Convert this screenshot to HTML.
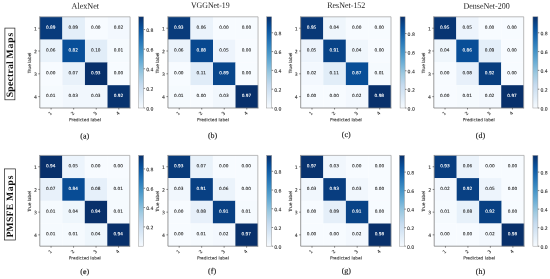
<!DOCTYPE html>
<html><head><meta charset="utf-8"><title>Confusion matrices</title>
<style>
html,body{margin:0;padding:0;background:#fff}
body{width:550px;height:279px;overflow:hidden}
svg{display:block}
text{font-family:"DejaVu Sans","Liberation Sans",sans-serif;text-rendering:geometricPrecision}
.ti{font-family:"Liberation Serif",serif;font-size:8.5px;fill:#222}
.sd{font-family:"Liberation Serif",serif;font-weight:bold;fill:#111}
.nm{font-size:4.25px;text-anchor:middle;stroke-width:0.1px}
.tk{font-size:4.6px;fill:#333;stroke:#333;stroke-width:0.1px}
.lb{font-size:4.3px;fill:#333;stroke:#333;stroke-width:0.1px}
.cp{font-family:"Liberation Serif",serif;font-size:8px;fill:#111;stroke:#111;stroke-width:0.12px}
</style></head><body>
<svg width="550" height="279" viewBox="0 0 550 279">
<defs><linearGradient id="cb" x1="0" y1="1" x2="0" y2="0">
<stop offset="0" stop-color="#f7fbff"/>
<stop offset="0.125" stop-color="#deebf7"/>
<stop offset="0.25" stop-color="#c6dbef"/>
<stop offset="0.375" stop-color="#9ecae1"/>
<stop offset="0.5" stop-color="#6baed6"/>
<stop offset="0.625" stop-color="#4292c6"/>
<stop offset="0.75" stop-color="#2171b5"/>
<stop offset="0.875" stop-color="#08519c"/>
<stop offset="1" stop-color="#08306b"/>
</linearGradient></defs>
<rect width="550" height="279" fill="#fff"/>
<text class="ti" transform="translate(85.3 8.8) rotate(0.05)" text-anchor="middle" textLength="27.6" lengthAdjust="spacingAndGlyphs">AlexNet</text>
<text class="ti" transform="translate(210.3 8) rotate(0.05)" text-anchor="middle" textLength="38.7" lengthAdjust="spacingAndGlyphs">VGGNet-19</text>
<text class="ti" transform="translate(346.3 8.1) rotate(0.05)" text-anchor="middle" textLength="38.1" lengthAdjust="spacingAndGlyphs">ResNet-152</text>
<text class="ti" transform="translate(486.6 8.8) rotate(0.05)" text-anchor="middle" textLength="46.3" lengthAdjust="spacingAndGlyphs">DenseNet-200</text>
<rect x="4.9" y="28.1" width="10" height="71.7" fill="#fff" stroke="#222" stroke-width="0.7"/>
<text class="sd" font-size="9.7" transform="translate(13.3 97.3) rotate(-90)"><tspan letter-spacing="0.24">Spectral</tspan> <tspan dx="0" letter-spacing="0.9">Maps</tspan></text>
<rect x="4.5" y="168.9" width="11.1" height="71.1" fill="#fff" stroke="#222" stroke-width="0.7"/>
<text class="sd" font-size="9.7" transform="translate(13.3 237.6) rotate(-90)"><tspan letter-spacing="0.25">PMSFE</tspan> <tspan dx="0" letter-spacing="0.8">Maps</tspan></text>
<g>
<rect x="39.80" y="16.80" width="22.62" height="22.85" fill="#083b7c"/>
<rect x="62.38" y="16.80" width="22.62" height="22.85" fill="#e4eff9"/>
<rect x="84.95" y="16.80" width="22.62" height="22.85" fill="#f7fbff"/>
<rect x="107.52" y="16.80" width="22.62" height="22.85" fill="#f3f8fe"/>
<rect x="39.80" y="39.60" width="22.62" height="22.85" fill="#eaf3fb"/>
<rect x="62.38" y="39.60" width="22.62" height="22.85" fill="#084f99"/>
<rect x="84.95" y="39.60" width="22.62" height="22.85" fill="#e1edf8"/>
<rect x="107.52" y="39.60" width="22.62" height="22.85" fill="#f5fafe"/>
<rect x="39.80" y="62.40" width="22.62" height="22.85" fill="#f7fbff"/>
<rect x="62.38" y="62.40" width="22.62" height="22.85" fill="#e8f1fa"/>
<rect x="84.95" y="62.40" width="22.62" height="22.85" fill="#08306b"/>
<rect x="107.52" y="62.40" width="22.62" height="22.85" fill="#f7fbff"/>
<rect x="39.80" y="85.20" width="22.62" height="22.85" fill="#f5fafe"/>
<rect x="62.38" y="85.20" width="22.62" height="22.85" fill="#f1f7fd"/>
<rect x="84.95" y="85.20" width="22.62" height="22.85" fill="#f1f7fd"/>
<rect x="107.52" y="85.20" width="22.62" height="22.85" fill="#08336f"/>
<path d="M39.43 16.80H130.10V108.37" fill="none" stroke="#a4a4a4" stroke-width="0.75"/>
<path d="M39.80 16.43V108.00H130.47" fill="none" stroke="#787878" stroke-width="0.75"/>
<text class="nm" transform="translate(50.69 28.70) rotate(0.05)" fill="#fff" stroke="#fff">0.89</text>
<text class="nm" transform="translate(73.26 28.70) rotate(0.05)" fill="#222" stroke="#222">0.09</text>
<text class="nm" transform="translate(95.84 28.70) rotate(0.05)" fill="#222" stroke="#222">0.00</text>
<text class="nm" transform="translate(118.41 28.70) rotate(0.05)" fill="#222" stroke="#222">0.02</text>
<text class="nm" transform="translate(50.69 51.50) rotate(0.05)" fill="#222" stroke="#222">0.06</text>
<text class="nm" transform="translate(73.26 51.50) rotate(0.05)" fill="#fff" stroke="#fff">0.82</text>
<text class="nm" transform="translate(95.84 51.50) rotate(0.05)" fill="#222" stroke="#222">0.10</text>
<text class="nm" transform="translate(118.41 51.50) rotate(0.05)" fill="#222" stroke="#222">0.01</text>
<text class="nm" transform="translate(50.69 74.30) rotate(0.05)" fill="#222" stroke="#222">0.00</text>
<text class="nm" transform="translate(73.26 74.30) rotate(0.05)" fill="#222" stroke="#222">0.07</text>
<text class="nm" transform="translate(95.84 74.30) rotate(0.05)" fill="#fff" stroke="#fff">0.93</text>
<text class="nm" transform="translate(118.41 74.30) rotate(0.05)" fill="#222" stroke="#222">0.00</text>
<text class="nm" transform="translate(50.69 97.10) rotate(0.05)" fill="#222" stroke="#222">0.01</text>
<text class="nm" transform="translate(73.26 97.10) rotate(0.05)" fill="#222" stroke="#222">0.03</text>
<text class="nm" transform="translate(95.84 97.10) rotate(0.05)" fill="#222" stroke="#222">0.03</text>
<text class="nm" transform="translate(118.41 97.10) rotate(0.05)" fill="#fff" stroke="#fff">0.92</text>
<path d="M39.80 28.20h-1.5M51.09 108.00v1.5" stroke="#333" stroke-width="0.6"/>
<text class="tk" transform="translate(36.90 30.40) rotate(0.05)" text-anchor="end">1</text>
<text class="tk" transform="translate(52.29 113.50) rotate(-45)" text-anchor="end">1</text>
<path d="M39.80 51.00h-1.5M73.66 108.00v1.5" stroke="#333" stroke-width="0.6"/>
<text class="tk" transform="translate(36.90 53.20) rotate(0.05)" text-anchor="end">2</text>
<text class="tk" transform="translate(74.86 113.50) rotate(-45)" text-anchor="end">2</text>
<path d="M39.80 73.80h-1.5M96.24 108.00v1.5" stroke="#333" stroke-width="0.6"/>
<text class="tk" transform="translate(36.90 76.00) rotate(0.05)" text-anchor="end">3</text>
<text class="tk" transform="translate(97.44 113.50) rotate(-45)" text-anchor="end">3</text>
<path d="M39.80 96.60h-1.5M118.81 108.00v1.5" stroke="#333" stroke-width="0.6"/>
<text class="tk" transform="translate(36.90 98.80) rotate(0.05)" text-anchor="end">4</text>
<text class="tk" transform="translate(120.01 113.50) rotate(-45)" text-anchor="end">4</text>
<text class="lb" transform="translate(30.90 62.90) rotate(-90)" text-anchor="middle">True label</text>
<text class="lb" transform="translate(84.95 121.30) rotate(0.05)" text-anchor="middle">Predicted label</text>
<rect x="138.70" y="16.80" width="5.00" height="91.20" fill="url(#cb)" stroke="#999" stroke-width="0.5"/>
<path d="M143.70 108.00h1.4" stroke="#333" stroke-width="0.6"/>
<text class="tk" transform="translate(146.20 110.45) rotate(0.05)">0.0</text>
<path d="M143.70 88.39h1.4" stroke="#333" stroke-width="0.6"/>
<text class="tk" transform="translate(146.20 90.84) rotate(0.05)">0.2</text>
<path d="M143.70 68.77h1.4" stroke="#333" stroke-width="0.6"/>
<text class="tk" transform="translate(146.20 71.22) rotate(0.05)">0.4</text>
<path d="M143.70 49.16h1.4" stroke="#333" stroke-width="0.6"/>
<text class="tk" transform="translate(146.20 51.61) rotate(0.05)">0.6</text>
<path d="M143.70 29.55h1.4" stroke="#333" stroke-width="0.6"/>
<text class="tk" transform="translate(146.20 32.00) rotate(0.05)">0.8</text>
<text class="cp" transform="translate(84.70 138.40) rotate(0.05)" text-anchor="middle">(a)</text>
</g>
<g>
<rect x="167.95" y="16.80" width="22.57" height="22.85" fill="#083b7b"/>
<rect x="190.47" y="16.80" width="22.57" height="22.85" fill="#ebf3fb"/>
<rect x="213.00" y="16.80" width="22.57" height="22.85" fill="#f7fbff"/>
<rect x="235.52" y="16.80" width="22.57" height="22.85" fill="#f7fbff"/>
<rect x="167.95" y="39.60" width="22.57" height="22.85" fill="#ebf3fb"/>
<rect x="190.47" y="39.60" width="22.57" height="22.85" fill="#08488f"/>
<rect x="213.00" y="39.60" width="22.57" height="22.85" fill="#edf4fc"/>
<rect x="235.52" y="39.60" width="22.57" height="22.85" fill="#f7fbff"/>
<rect x="167.95" y="62.40" width="22.57" height="22.85" fill="#f7fbff"/>
<rect x="190.47" y="62.40" width="22.57" height="22.85" fill="#e0ecf8"/>
<rect x="213.00" y="62.40" width="22.57" height="22.85" fill="#08468b"/>
<rect x="235.52" y="62.40" width="22.57" height="22.85" fill="#f7fbff"/>
<rect x="167.95" y="85.20" width="22.57" height="22.85" fill="#f5fafe"/>
<rect x="190.47" y="85.20" width="22.57" height="22.85" fill="#f7fbff"/>
<rect x="213.00" y="85.20" width="22.57" height="22.85" fill="#f1f7fd"/>
<rect x="235.52" y="85.20" width="22.57" height="22.85" fill="#08306b"/>
<path d="M167.58 16.80H258.05V108.37" fill="none" stroke="#a4a4a4" stroke-width="0.75"/>
<path d="M167.95 16.43V108.00H258.42" fill="none" stroke="#787878" stroke-width="0.75"/>
<text class="nm" transform="translate(178.81 28.70) rotate(0.05)" fill="#fff" stroke="#fff">0.93</text>
<text class="nm" transform="translate(201.34 28.70) rotate(0.05)" fill="#222" stroke="#222">0.06</text>
<text class="nm" transform="translate(223.86 28.70) rotate(0.05)" fill="#222" stroke="#222">0.00</text>
<text class="nm" transform="translate(246.39 28.70) rotate(0.05)" fill="#222" stroke="#222">0.00</text>
<text class="nm" transform="translate(178.81 51.50) rotate(0.05)" fill="#222" stroke="#222">0.06</text>
<text class="nm" transform="translate(201.34 51.50) rotate(0.05)" fill="#fff" stroke="#fff">0.88</text>
<text class="nm" transform="translate(223.86 51.50) rotate(0.05)" fill="#222" stroke="#222">0.05</text>
<text class="nm" transform="translate(246.39 51.50) rotate(0.05)" fill="#222" stroke="#222">0.00</text>
<text class="nm" transform="translate(178.81 74.30) rotate(0.05)" fill="#222" stroke="#222">0.00</text>
<text class="nm" transform="translate(201.34 74.30) rotate(0.05)" fill="#222" stroke="#222">0.11</text>
<text class="nm" transform="translate(223.86 74.30) rotate(0.05)" fill="#fff" stroke="#fff">0.89</text>
<text class="nm" transform="translate(246.39 74.30) rotate(0.05)" fill="#222" stroke="#222">0.00</text>
<text class="nm" transform="translate(178.81 97.10) rotate(0.05)" fill="#222" stroke="#222">0.01</text>
<text class="nm" transform="translate(201.34 97.10) rotate(0.05)" fill="#222" stroke="#222">0.00</text>
<text class="nm" transform="translate(223.86 97.10) rotate(0.05)" fill="#222" stroke="#222">0.03</text>
<text class="nm" transform="translate(246.39 97.10) rotate(0.05)" fill="#fff" stroke="#fff">0.97</text>
<path d="M167.95 28.20h-1.5M179.21 108.00v1.5" stroke="#333" stroke-width="0.6"/>
<text class="tk" transform="translate(165.05 30.40) rotate(0.05)" text-anchor="end">1</text>
<text class="tk" transform="translate(180.41 113.50) rotate(-45)" text-anchor="end">1</text>
<path d="M167.95 51.00h-1.5M201.74 108.00v1.5" stroke="#333" stroke-width="0.6"/>
<text class="tk" transform="translate(165.05 53.20) rotate(0.05)" text-anchor="end">2</text>
<text class="tk" transform="translate(202.94 113.50) rotate(-45)" text-anchor="end">2</text>
<path d="M167.95 73.80h-1.5M224.26 108.00v1.5" stroke="#333" stroke-width="0.6"/>
<text class="tk" transform="translate(165.05 76.00) rotate(0.05)" text-anchor="end">3</text>
<text class="tk" transform="translate(225.46 113.50) rotate(-45)" text-anchor="end">3</text>
<path d="M167.95 96.60h-1.5M246.79 108.00v1.5" stroke="#333" stroke-width="0.6"/>
<text class="tk" transform="translate(165.05 98.80) rotate(0.05)" text-anchor="end">4</text>
<text class="tk" transform="translate(247.99 113.50) rotate(-45)" text-anchor="end">4</text>
<text class="lb" transform="translate(159.05 62.90) rotate(-90)" text-anchor="middle">True label</text>
<text class="lb" transform="translate(213.00 121.30) rotate(0.05)" text-anchor="middle">Predicted label</text>
<rect x="266.70" y="16.80" width="5.00" height="91.20" fill="url(#cb)" stroke="#999" stroke-width="0.5"/>
<path d="M271.70 108.00h1.4" stroke="#333" stroke-width="0.6"/>
<text class="tk" transform="translate(274.20 110.45) rotate(0.05)">0.0</text>
<path d="M271.70 89.20h1.4" stroke="#333" stroke-width="0.6"/>
<text class="tk" transform="translate(274.20 91.65) rotate(0.05)">0.2</text>
<path d="M271.70 70.39h1.4" stroke="#333" stroke-width="0.6"/>
<text class="tk" transform="translate(274.20 72.84) rotate(0.05)">0.4</text>
<path d="M271.70 51.59h1.4" stroke="#333" stroke-width="0.6"/>
<text class="tk" transform="translate(274.20 54.04) rotate(0.05)">0.6</text>
<path d="M271.70 32.78h1.4" stroke="#333" stroke-width="0.6"/>
<text class="tk" transform="translate(274.20 35.23) rotate(0.05)">0.8</text>
<text class="cp" transform="translate(212.60 138.00) rotate(0.05)" text-anchor="middle">(b)</text>
</g>
<g>
<rect x="300.70" y="16.80" width="22.62" height="22.85" fill="#083877"/>
<rect x="323.27" y="16.80" width="22.62" height="22.85" fill="#eff6fc"/>
<rect x="345.85" y="16.80" width="22.62" height="22.85" fill="#f7fbff"/>
<rect x="368.42" y="16.80" width="22.62" height="22.85" fill="#f7fbff"/>
<rect x="300.70" y="39.60" width="22.62" height="22.85" fill="#edf4fc"/>
<rect x="323.27" y="39.60" width="22.62" height="22.85" fill="#084387"/>
<rect x="345.85" y="39.60" width="22.62" height="22.85" fill="#eff6fc"/>
<rect x="368.42" y="39.60" width="22.62" height="22.85" fill="#f7fbff"/>
<rect x="300.70" y="62.40" width="22.62" height="22.85" fill="#f3f8fe"/>
<rect x="323.27" y="62.40" width="22.62" height="22.85" fill="#e1edf8"/>
<rect x="345.85" y="62.40" width="22.62" height="22.85" fill="#084e97"/>
<rect x="368.42" y="62.40" width="22.62" height="22.85" fill="#f5fafe"/>
<rect x="300.70" y="85.20" width="22.62" height="22.85" fill="#f7fbff"/>
<rect x="323.27" y="85.20" width="22.62" height="22.85" fill="#f7fbff"/>
<rect x="345.85" y="85.20" width="22.62" height="22.85" fill="#f3f8fe"/>
<rect x="368.42" y="85.20" width="22.62" height="22.85" fill="#08306b"/>
<path d="M300.33 16.80H391.00V108.37" fill="none" stroke="#a4a4a4" stroke-width="0.75"/>
<path d="M300.70 16.43V108.00H391.37" fill="none" stroke="#787878" stroke-width="0.75"/>
<text class="nm" transform="translate(311.59 28.70) rotate(0.05)" fill="#fff" stroke="#fff">0.95</text>
<text class="nm" transform="translate(334.16 28.70) rotate(0.05)" fill="#222" stroke="#222">0.04</text>
<text class="nm" transform="translate(356.74 28.70) rotate(0.05)" fill="#222" stroke="#222">0.00</text>
<text class="nm" transform="translate(379.31 28.70) rotate(0.05)" fill="#222" stroke="#222">0.00</text>
<text class="nm" transform="translate(311.59 51.50) rotate(0.05)" fill="#222" stroke="#222">0.05</text>
<text class="nm" transform="translate(334.16 51.50) rotate(0.05)" fill="#fff" stroke="#fff">0.91</text>
<text class="nm" transform="translate(356.74 51.50) rotate(0.05)" fill="#222" stroke="#222">0.04</text>
<text class="nm" transform="translate(379.31 51.50) rotate(0.05)" fill="#222" stroke="#222">0.00</text>
<text class="nm" transform="translate(311.59 74.30) rotate(0.05)" fill="#222" stroke="#222">0.02</text>
<text class="nm" transform="translate(334.16 74.30) rotate(0.05)" fill="#222" stroke="#222">0.11</text>
<text class="nm" transform="translate(356.74 74.30) rotate(0.05)" fill="#fff" stroke="#fff">0.87</text>
<text class="nm" transform="translate(379.31 74.30) rotate(0.05)" fill="#222" stroke="#222">0.01</text>
<text class="nm" transform="translate(311.59 97.10) rotate(0.05)" fill="#222" stroke="#222">0.00</text>
<text class="nm" transform="translate(334.16 97.10) rotate(0.05)" fill="#222" stroke="#222">0.00</text>
<text class="nm" transform="translate(356.74 97.10) rotate(0.05)" fill="#222" stroke="#222">0.02</text>
<text class="nm" transform="translate(379.31 97.10) rotate(0.05)" fill="#fff" stroke="#fff">0.98</text>
<path d="M300.70 28.20h-1.5M311.99 108.00v1.5" stroke="#333" stroke-width="0.6"/>
<text class="tk" transform="translate(297.80 30.40) rotate(0.05)" text-anchor="end">1</text>
<text class="tk" transform="translate(313.19 113.50) rotate(-45)" text-anchor="end">1</text>
<path d="M300.70 51.00h-1.5M334.56 108.00v1.5" stroke="#333" stroke-width="0.6"/>
<text class="tk" transform="translate(297.80 53.20) rotate(0.05)" text-anchor="end">2</text>
<text class="tk" transform="translate(335.76 113.50) rotate(-45)" text-anchor="end">2</text>
<path d="M300.70 73.80h-1.5M357.14 108.00v1.5" stroke="#333" stroke-width="0.6"/>
<text class="tk" transform="translate(297.80 76.00) rotate(0.05)" text-anchor="end">3</text>
<text class="tk" transform="translate(358.34 113.50) rotate(-45)" text-anchor="end">3</text>
<path d="M300.70 96.60h-1.5M379.71 108.00v1.5" stroke="#333" stroke-width="0.6"/>
<text class="tk" transform="translate(297.80 98.80) rotate(0.05)" text-anchor="end">4</text>
<text class="tk" transform="translate(380.91 113.50) rotate(-45)" text-anchor="end">4</text>
<text class="lb" transform="translate(291.80 62.90) rotate(-90)" text-anchor="middle">True label</text>
<text class="lb" transform="translate(345.85 121.30) rotate(0.05)" text-anchor="middle">Predicted label</text>
<rect x="400.10" y="16.80" width="5.00" height="91.20" fill="url(#cb)" stroke="#999" stroke-width="0.5"/>
<path d="M405.10 108.00h1.4" stroke="#333" stroke-width="0.6"/>
<text class="tk" transform="translate(407.60 110.45) rotate(0.05)">0.0</text>
<path d="M405.10 89.39h1.4" stroke="#333" stroke-width="0.6"/>
<text class="tk" transform="translate(407.60 91.84) rotate(0.05)">0.2</text>
<path d="M405.10 70.78h1.4" stroke="#333" stroke-width="0.6"/>
<text class="tk" transform="translate(407.60 73.23) rotate(0.05)">0.4</text>
<path d="M405.10 52.16h1.4" stroke="#333" stroke-width="0.6"/>
<text class="tk" transform="translate(407.60 54.61) rotate(0.05)">0.6</text>
<path d="M405.10 33.55h1.4" stroke="#333" stroke-width="0.6"/>
<text class="tk" transform="translate(407.60 36.00) rotate(0.05)">0.8</text>
<text class="cp" transform="translate(346.20 137.10) rotate(0.05)" text-anchor="middle">(c)</text>
</g>
<g>
<rect x="433.80" y="16.80" width="22.53" height="22.85" fill="#083573"/>
<rect x="456.28" y="16.80" width="22.53" height="22.85" fill="#edf4fc"/>
<rect x="478.75" y="16.80" width="22.53" height="22.85" fill="#f7fbff"/>
<rect x="501.23" y="16.80" width="22.53" height="22.85" fill="#f7fbff"/>
<rect x="433.80" y="39.60" width="22.53" height="22.85" fill="#eff6fc"/>
<rect x="456.28" y="39.60" width="22.53" height="22.85" fill="#084e97"/>
<rect x="478.75" y="39.60" width="22.53" height="22.85" fill="#e4eff9"/>
<rect x="501.23" y="39.60" width="22.53" height="22.85" fill="#f7fbff"/>
<rect x="433.80" y="62.40" width="22.53" height="22.85" fill="#f7fbff"/>
<rect x="456.28" y="62.40" width="22.53" height="22.85" fill="#e7f0fa"/>
<rect x="478.75" y="62.40" width="22.53" height="22.85" fill="#083e7f"/>
<rect x="501.23" y="62.40" width="22.53" height="22.85" fill="#f7fbff"/>
<rect x="433.80" y="85.20" width="22.53" height="22.85" fill="#f7fbff"/>
<rect x="456.28" y="85.20" width="22.53" height="22.85" fill="#f5fafe"/>
<rect x="478.75" y="85.20" width="22.53" height="22.85" fill="#f3f8fe"/>
<rect x="501.23" y="85.20" width="22.53" height="22.85" fill="#08306b"/>
<path d="M433.43 16.80H523.70V108.37" fill="none" stroke="#a4a4a4" stroke-width="0.75"/>
<path d="M433.80 16.43V108.00H524.07" fill="none" stroke="#787878" stroke-width="0.75"/>
<text class="nm" transform="translate(444.64 28.70) rotate(0.05)" fill="#fff" stroke="#fff">0.95</text>
<text class="nm" transform="translate(467.11 28.70) rotate(0.05)" fill="#222" stroke="#222">0.05</text>
<text class="nm" transform="translate(489.59 28.70) rotate(0.05)" fill="#222" stroke="#222">0.00</text>
<text class="nm" transform="translate(512.06 28.70) rotate(0.05)" fill="#222" stroke="#222">0.00</text>
<text class="nm" transform="translate(444.64 51.50) rotate(0.05)" fill="#222" stroke="#222">0.04</text>
<text class="nm" transform="translate(467.11 51.50) rotate(0.05)" fill="#fff" stroke="#fff">0.86</text>
<text class="nm" transform="translate(489.59 51.50) rotate(0.05)" fill="#222" stroke="#222">0.09</text>
<text class="nm" transform="translate(512.06 51.50) rotate(0.05)" fill="#222" stroke="#222">0.00</text>
<text class="nm" transform="translate(444.64 74.30) rotate(0.05)" fill="#222" stroke="#222">0.00</text>
<text class="nm" transform="translate(467.11 74.30) rotate(0.05)" fill="#222" stroke="#222">0.08</text>
<text class="nm" transform="translate(489.59 74.30) rotate(0.05)" fill="#fff" stroke="#fff">0.92</text>
<text class="nm" transform="translate(512.06 74.30) rotate(0.05)" fill="#222" stroke="#222">0.00</text>
<text class="nm" transform="translate(444.64 97.10) rotate(0.05)" fill="#222" stroke="#222">0.00</text>
<text class="nm" transform="translate(467.11 97.10) rotate(0.05)" fill="#222" stroke="#222">0.01</text>
<text class="nm" transform="translate(489.59 97.10) rotate(0.05)" fill="#222" stroke="#222">0.02</text>
<text class="nm" transform="translate(512.06 97.10) rotate(0.05)" fill="#fff" stroke="#fff">0.97</text>
<path d="M433.80 28.20h-1.5M445.04 108.00v1.5" stroke="#333" stroke-width="0.6"/>
<text class="tk" transform="translate(430.90 30.40) rotate(0.05)" text-anchor="end">1</text>
<text class="tk" transform="translate(446.24 113.50) rotate(-45)" text-anchor="end">1</text>
<path d="M433.80 51.00h-1.5M467.51 108.00v1.5" stroke="#333" stroke-width="0.6"/>
<text class="tk" transform="translate(430.90 53.20) rotate(0.05)" text-anchor="end">2</text>
<text class="tk" transform="translate(468.71 113.50) rotate(-45)" text-anchor="end">2</text>
<path d="M433.80 73.80h-1.5M489.99 108.00v1.5" stroke="#333" stroke-width="0.6"/>
<text class="tk" transform="translate(430.90 76.00) rotate(0.05)" text-anchor="end">3</text>
<text class="tk" transform="translate(491.19 113.50) rotate(-45)" text-anchor="end">3</text>
<path d="M433.80 96.60h-1.5M512.46 108.00v1.5" stroke="#333" stroke-width="0.6"/>
<text class="tk" transform="translate(430.90 98.80) rotate(0.05)" text-anchor="end">4</text>
<text class="tk" transform="translate(513.66 113.50) rotate(-45)" text-anchor="end">4</text>
<text class="lb" transform="translate(424.90 62.90) rotate(-90)" text-anchor="middle">True label</text>
<text class="lb" transform="translate(478.75 121.30) rotate(0.05)" text-anchor="middle">Predicted label</text>
<rect x="532.90" y="16.80" width="5.00" height="91.20" fill="url(#cb)" stroke="#999" stroke-width="0.5"/>
<path d="M537.90 108.00h1.4" stroke="#333" stroke-width="0.6"/>
<text class="tk" transform="translate(540.40 110.45) rotate(0.05)">0.0</text>
<path d="M537.90 89.20h1.4" stroke="#333" stroke-width="0.6"/>
<text class="tk" transform="translate(540.40 91.65) rotate(0.05)">0.2</text>
<path d="M537.90 70.39h1.4" stroke="#333" stroke-width="0.6"/>
<text class="tk" transform="translate(540.40 72.84) rotate(0.05)">0.4</text>
<path d="M537.90 51.59h1.4" stroke="#333" stroke-width="0.6"/>
<text class="tk" transform="translate(540.40 54.04) rotate(0.05)">0.6</text>
<path d="M537.90 32.78h1.4" stroke="#333" stroke-width="0.6"/>
<text class="tk" transform="translate(540.40 35.23) rotate(0.05)">0.8</text>
<text class="cp" transform="translate(480.45 138.00) rotate(0.05)" text-anchor="middle">(d)</text>
</g>
<g>
<rect x="39.80" y="155.40" width="22.55" height="22.75" fill="#08306b"/>
<rect x="62.30" y="155.40" width="22.55" height="22.75" fill="#ecf4fc"/>
<rect x="84.80" y="155.40" width="22.55" height="22.75" fill="#f7fbff"/>
<rect x="107.30" y="155.40" width="22.55" height="22.75" fill="#f7fbff"/>
<rect x="39.80" y="178.10" width="22.55" height="22.75" fill="#e8f1fa"/>
<rect x="62.30" y="178.10" width="22.55" height="22.75" fill="#084c95"/>
<rect x="84.80" y="178.10" width="22.55" height="22.75" fill="#e6f0fa"/>
<rect x="107.30" y="178.10" width="22.55" height="22.75" fill="#f5fafe"/>
<rect x="39.80" y="200.80" width="22.55" height="22.75" fill="#f5fafe"/>
<rect x="62.30" y="200.80" width="22.55" height="22.75" fill="#eef6fc"/>
<rect x="84.80" y="200.80" width="22.55" height="22.75" fill="#08306b"/>
<rect x="107.30" y="200.80" width="22.55" height="22.75" fill="#f5fafe"/>
<rect x="39.80" y="223.50" width="22.55" height="22.75" fill="#f5fafe"/>
<rect x="62.30" y="223.50" width="22.55" height="22.75" fill="#f5fafe"/>
<rect x="84.80" y="223.50" width="22.55" height="22.75" fill="#eef6fc"/>
<rect x="107.30" y="223.50" width="22.55" height="22.75" fill="#08306b"/>
<path d="M39.43 155.40H129.80V246.57" fill="none" stroke="#a4a4a4" stroke-width="0.75"/>
<path d="M39.80 155.03V246.20H130.17" fill="none" stroke="#787878" stroke-width="0.75"/>
<text class="nm" transform="translate(50.65 167.25) rotate(0.05)" fill="#fff" stroke="#fff">0.94</text>
<text class="nm" transform="translate(73.15 167.25) rotate(0.05)" fill="#222" stroke="#222">0.05</text>
<text class="nm" transform="translate(95.65 167.25) rotate(0.05)" fill="#222" stroke="#222">0.00</text>
<text class="nm" transform="translate(118.15 167.25) rotate(0.05)" fill="#222" stroke="#222">0.00</text>
<text class="nm" transform="translate(50.65 189.95) rotate(0.05)" fill="#222" stroke="#222">0.07</text>
<text class="nm" transform="translate(73.15 189.95) rotate(0.05)" fill="#fff" stroke="#fff">0.84</text>
<text class="nm" transform="translate(95.65 189.95) rotate(0.05)" fill="#222" stroke="#222">0.08</text>
<text class="nm" transform="translate(118.15 189.95) rotate(0.05)" fill="#222" stroke="#222">0.01</text>
<text class="nm" transform="translate(50.65 212.65) rotate(0.05)" fill="#222" stroke="#222">0.01</text>
<text class="nm" transform="translate(73.15 212.65) rotate(0.05)" fill="#222" stroke="#222">0.04</text>
<text class="nm" transform="translate(95.65 212.65) rotate(0.05)" fill="#fff" stroke="#fff">0.94</text>
<text class="nm" transform="translate(118.15 212.65) rotate(0.05)" fill="#222" stroke="#222">0.01</text>
<text class="nm" transform="translate(50.65 235.35) rotate(0.05)" fill="#222" stroke="#222">0.01</text>
<text class="nm" transform="translate(73.15 235.35) rotate(0.05)" fill="#222" stroke="#222">0.01</text>
<text class="nm" transform="translate(95.65 235.35) rotate(0.05)" fill="#222" stroke="#222">0.04</text>
<text class="nm" transform="translate(118.15 235.35) rotate(0.05)" fill="#fff" stroke="#fff">0.94</text>
<path d="M39.80 166.75h-1.5M51.05 246.20v1.5" stroke="#333" stroke-width="0.6"/>
<text class="tk" transform="translate(36.90 168.95) rotate(0.05)" text-anchor="end">1</text>
<text class="tk" transform="translate(52.25 251.70) rotate(-45)" text-anchor="end">1</text>
<path d="M39.80 189.45h-1.5M73.55 246.20v1.5" stroke="#333" stroke-width="0.6"/>
<text class="tk" transform="translate(36.90 191.65) rotate(0.05)" text-anchor="end">2</text>
<text class="tk" transform="translate(74.75 251.70) rotate(-45)" text-anchor="end">2</text>
<path d="M39.80 212.15h-1.5M96.05 246.20v1.5" stroke="#333" stroke-width="0.6"/>
<text class="tk" transform="translate(36.90 214.35) rotate(0.05)" text-anchor="end">3</text>
<text class="tk" transform="translate(97.25 251.70) rotate(-45)" text-anchor="end">3</text>
<path d="M39.80 234.85h-1.5M118.55 246.20v1.5" stroke="#333" stroke-width="0.6"/>
<text class="tk" transform="translate(36.90 237.05) rotate(0.05)" text-anchor="end">4</text>
<text class="tk" transform="translate(119.75 251.70) rotate(-45)" text-anchor="end">4</text>
<text class="lb" transform="translate(30.90 201.30) rotate(-90)" text-anchor="middle">True label</text>
<text class="lb" transform="translate(84.80 259.50) rotate(0.05)" text-anchor="middle">Predicted label</text>
<rect x="138.70" y="155.40" width="5.00" height="90.80" fill="url(#cb)" stroke="#999" stroke-width="0.5"/>
<path d="M143.70 226.88h1.4" stroke="#333" stroke-width="0.6"/>
<text class="tk" transform="translate(146.20 229.33) rotate(0.05)">0.2</text>
<path d="M143.70 207.56h1.4" stroke="#333" stroke-width="0.6"/>
<text class="tk" transform="translate(146.20 210.01) rotate(0.05)">0.4</text>
<path d="M143.70 188.24h1.4" stroke="#333" stroke-width="0.6"/>
<text class="tk" transform="translate(146.20 190.69) rotate(0.05)">0.6</text>
<path d="M143.70 168.92h1.4" stroke="#333" stroke-width="0.6"/>
<text class="tk" transform="translate(146.20 171.37) rotate(0.05)">0.8</text>
<text class="cp" transform="translate(84.80 273.95) rotate(0.05)" text-anchor="middle">(e)</text>
</g>
<g>
<rect x="167.95" y="155.40" width="22.53" height="22.75" fill="#083b7b"/>
<rect x="190.42" y="155.40" width="22.53" height="22.75" fill="#e9f2fa"/>
<rect x="212.90" y="155.40" width="22.53" height="22.75" fill="#f7fbff"/>
<rect x="235.38" y="155.40" width="22.53" height="22.75" fill="#f7fbff"/>
<rect x="167.95" y="178.10" width="22.53" height="22.75" fill="#f1f7fd"/>
<rect x="190.42" y="178.10" width="22.53" height="22.75" fill="#084083"/>
<rect x="212.90" y="178.10" width="22.53" height="22.75" fill="#ebf3fb"/>
<rect x="235.38" y="178.10" width="22.53" height="22.75" fill="#f7fbff"/>
<rect x="167.95" y="200.80" width="22.53" height="22.75" fill="#f7fbff"/>
<rect x="190.42" y="200.80" width="22.53" height="22.75" fill="#e7f0fa"/>
<rect x="212.90" y="200.80" width="22.53" height="22.75" fill="#084083"/>
<rect x="235.38" y="200.80" width="22.53" height="22.75" fill="#f5fafe"/>
<rect x="167.95" y="223.50" width="22.53" height="22.75" fill="#f7fbff"/>
<rect x="190.42" y="223.50" width="22.53" height="22.75" fill="#f5fafe"/>
<rect x="212.90" y="223.50" width="22.53" height="22.75" fill="#f3f8fe"/>
<rect x="235.38" y="223.50" width="22.53" height="22.75" fill="#08306b"/>
<path d="M167.58 155.40H257.85V246.57" fill="none" stroke="#a4a4a4" stroke-width="0.75"/>
<path d="M167.95 155.03V246.20H258.22" fill="none" stroke="#787878" stroke-width="0.75"/>
<text class="nm" transform="translate(178.79 167.25) rotate(0.05)" fill="#fff" stroke="#fff">0.93</text>
<text class="nm" transform="translate(201.26 167.25) rotate(0.05)" fill="#222" stroke="#222">0.07</text>
<text class="nm" transform="translate(223.74 167.25) rotate(0.05)" fill="#222" stroke="#222">0.00</text>
<text class="nm" transform="translate(246.21 167.25) rotate(0.05)" fill="#222" stroke="#222">0.00</text>
<text class="nm" transform="translate(178.79 189.95) rotate(0.05)" fill="#222" stroke="#222">0.03</text>
<text class="nm" transform="translate(201.26 189.95) rotate(0.05)" fill="#fff" stroke="#fff">0.91</text>
<text class="nm" transform="translate(223.74 189.95) rotate(0.05)" fill="#222" stroke="#222">0.06</text>
<text class="nm" transform="translate(246.21 189.95) rotate(0.05)" fill="#222" stroke="#222">0.00</text>
<text class="nm" transform="translate(178.79 212.65) rotate(0.05)" fill="#222" stroke="#222">0.00</text>
<text class="nm" transform="translate(201.26 212.65) rotate(0.05)" fill="#222" stroke="#222">0.08</text>
<text class="nm" transform="translate(223.74 212.65) rotate(0.05)" fill="#fff" stroke="#fff">0.91</text>
<text class="nm" transform="translate(246.21 212.65) rotate(0.05)" fill="#222" stroke="#222">0.01</text>
<text class="nm" transform="translate(178.79 235.35) rotate(0.05)" fill="#222" stroke="#222">0.00</text>
<text class="nm" transform="translate(201.26 235.35) rotate(0.05)" fill="#222" stroke="#222">0.01</text>
<text class="nm" transform="translate(223.74 235.35) rotate(0.05)" fill="#222" stroke="#222">0.02</text>
<text class="nm" transform="translate(246.21 235.35) rotate(0.05)" fill="#fff" stroke="#fff">0.97</text>
<path d="M167.95 166.75h-1.5M179.19 246.20v1.5" stroke="#333" stroke-width="0.6"/>
<text class="tk" transform="translate(165.05 168.95) rotate(0.05)" text-anchor="end">1</text>
<text class="tk" transform="translate(180.39 251.70) rotate(-45)" text-anchor="end">1</text>
<path d="M167.95 189.45h-1.5M201.66 246.20v1.5" stroke="#333" stroke-width="0.6"/>
<text class="tk" transform="translate(165.05 191.65) rotate(0.05)" text-anchor="end">2</text>
<text class="tk" transform="translate(202.86 251.70) rotate(-45)" text-anchor="end">2</text>
<path d="M167.95 212.15h-1.5M224.14 246.20v1.5" stroke="#333" stroke-width="0.6"/>
<text class="tk" transform="translate(165.05 214.35) rotate(0.05)" text-anchor="end">3</text>
<text class="tk" transform="translate(225.34 251.70) rotate(-45)" text-anchor="end">3</text>
<path d="M167.95 234.85h-1.5M246.61 246.20v1.5" stroke="#333" stroke-width="0.6"/>
<text class="tk" transform="translate(165.05 237.05) rotate(0.05)" text-anchor="end">4</text>
<text class="tk" transform="translate(247.81 251.70) rotate(-45)" text-anchor="end">4</text>
<text class="lb" transform="translate(159.05 201.30) rotate(-90)" text-anchor="middle">True label</text>
<text class="lb" transform="translate(212.90 259.50) rotate(0.05)" text-anchor="middle">Predicted label</text>
<rect x="266.70" y="155.40" width="5.00" height="90.80" fill="url(#cb)" stroke="#999" stroke-width="0.5"/>
<path d="M271.70 246.20h1.4" stroke="#333" stroke-width="0.6"/>
<text class="tk" transform="translate(274.20 248.65) rotate(0.05)">0.0</text>
<path d="M271.70 227.48h1.4" stroke="#333" stroke-width="0.6"/>
<text class="tk" transform="translate(274.20 229.93) rotate(0.05)">0.2</text>
<path d="M271.70 208.76h1.4" stroke="#333" stroke-width="0.6"/>
<text class="tk" transform="translate(274.20 211.21) rotate(0.05)">0.4</text>
<path d="M271.70 190.04h1.4" stroke="#333" stroke-width="0.6"/>
<text class="tk" transform="translate(274.20 192.49) rotate(0.05)">0.6</text>
<path d="M271.70 171.31h1.4" stroke="#333" stroke-width="0.6"/>
<text class="tk" transform="translate(274.20 173.76) rotate(0.05)">0.8</text>
<text class="cp" transform="translate(212.05 273.60) rotate(0.05)" text-anchor="middle">(f)</text>
</g>
<g>
<rect x="300.70" y="155.40" width="22.65" height="22.75" fill="#08336f"/>
<rect x="323.30" y="155.40" width="22.65" height="22.75" fill="#f1f7fd"/>
<rect x="345.90" y="155.40" width="22.65" height="22.75" fill="#f7fbff"/>
<rect x="368.50" y="155.40" width="22.65" height="22.75" fill="#f7fbff"/>
<rect x="300.70" y="178.10" width="22.65" height="22.75" fill="#f1f7fd"/>
<rect x="323.30" y="178.10" width="22.65" height="22.75" fill="#083d7f"/>
<rect x="345.90" y="178.10" width="22.65" height="22.75" fill="#f1f7fd"/>
<rect x="368.50" y="178.10" width="22.65" height="22.75" fill="#f7fbff"/>
<rect x="300.70" y="200.80" width="22.65" height="22.75" fill="#f7fbff"/>
<rect x="323.30" y="200.80" width="22.65" height="22.75" fill="#e5eff9"/>
<rect x="345.90" y="200.80" width="22.65" height="22.75" fill="#084387"/>
<rect x="368.50" y="200.80" width="22.65" height="22.75" fill="#f7fbff"/>
<rect x="300.70" y="223.50" width="22.65" height="22.75" fill="#f7fbff"/>
<rect x="323.30" y="223.50" width="22.65" height="22.75" fill="#f7fbff"/>
<rect x="345.90" y="223.50" width="22.65" height="22.75" fill="#f3f8fe"/>
<rect x="368.50" y="223.50" width="22.65" height="22.75" fill="#08306b"/>
<path d="M300.33 155.40H391.10V246.57" fill="none" stroke="#a4a4a4" stroke-width="0.75"/>
<path d="M300.70 155.03V246.20H391.47" fill="none" stroke="#787878" stroke-width="0.75"/>
<text class="nm" transform="translate(311.60 167.25) rotate(0.05)" fill="#fff" stroke="#fff">0.97</text>
<text class="nm" transform="translate(334.20 167.25) rotate(0.05)" fill="#222" stroke="#222">0.03</text>
<text class="nm" transform="translate(356.80 167.25) rotate(0.05)" fill="#222" stroke="#222">0.00</text>
<text class="nm" transform="translate(379.40 167.25) rotate(0.05)" fill="#222" stroke="#222">0.00</text>
<text class="nm" transform="translate(311.60 189.95) rotate(0.05)" fill="#222" stroke="#222">0.03</text>
<text class="nm" transform="translate(334.20 189.95) rotate(0.05)" fill="#fff" stroke="#fff">0.93</text>
<text class="nm" transform="translate(356.80 189.95) rotate(0.05)" fill="#222" stroke="#222">0.03</text>
<text class="nm" transform="translate(379.40 189.95) rotate(0.05)" fill="#222" stroke="#222">0.00</text>
<text class="nm" transform="translate(311.60 212.65) rotate(0.05)" fill="#222" stroke="#222">0.00</text>
<text class="nm" transform="translate(334.20 212.65) rotate(0.05)" fill="#222" stroke="#222">0.09</text>
<text class="nm" transform="translate(356.80 212.65) rotate(0.05)" fill="#fff" stroke="#fff">0.91</text>
<text class="nm" transform="translate(379.40 212.65) rotate(0.05)" fill="#222" stroke="#222">0.00</text>
<text class="nm" transform="translate(311.60 235.35) rotate(0.05)" fill="#222" stroke="#222">0.00</text>
<text class="nm" transform="translate(334.20 235.35) rotate(0.05)" fill="#222" stroke="#222">0.00</text>
<text class="nm" transform="translate(356.80 235.35) rotate(0.05)" fill="#222" stroke="#222">0.02</text>
<text class="nm" transform="translate(379.40 235.35) rotate(0.05)" fill="#fff" stroke="#fff">0.98</text>
<path d="M300.70 166.75h-1.5M312.00 246.20v1.5" stroke="#333" stroke-width="0.6"/>
<text class="tk" transform="translate(297.80 168.95) rotate(0.05)" text-anchor="end">1</text>
<text class="tk" transform="translate(313.20 251.70) rotate(-45)" text-anchor="end">1</text>
<path d="M300.70 189.45h-1.5M334.60 246.20v1.5" stroke="#333" stroke-width="0.6"/>
<text class="tk" transform="translate(297.80 191.65) rotate(0.05)" text-anchor="end">2</text>
<text class="tk" transform="translate(335.80 251.70) rotate(-45)" text-anchor="end">2</text>
<path d="M300.70 212.15h-1.5M357.20 246.20v1.5" stroke="#333" stroke-width="0.6"/>
<text class="tk" transform="translate(297.80 214.35) rotate(0.05)" text-anchor="end">3</text>
<text class="tk" transform="translate(358.40 251.70) rotate(-45)" text-anchor="end">3</text>
<path d="M300.70 234.85h-1.5M379.80 246.20v1.5" stroke="#333" stroke-width="0.6"/>
<text class="tk" transform="translate(297.80 237.05) rotate(0.05)" text-anchor="end">4</text>
<text class="tk" transform="translate(381.00 251.70) rotate(-45)" text-anchor="end">4</text>
<text class="lb" transform="translate(291.80 201.30) rotate(-90)" text-anchor="middle">True label</text>
<text class="lb" transform="translate(345.90 259.50) rotate(0.05)" text-anchor="middle">Predicted label</text>
<rect x="399.45" y="155.40" width="5.00" height="90.80" fill="url(#cb)" stroke="#999" stroke-width="0.5"/>
<path d="M404.45 246.20h1.4" stroke="#333" stroke-width="0.6"/>
<text class="tk" transform="translate(406.95 248.65) rotate(0.05)">0.0</text>
<path d="M404.45 227.67h1.4" stroke="#333" stroke-width="0.6"/>
<text class="tk" transform="translate(406.95 230.12) rotate(0.05)">0.2</text>
<path d="M404.45 209.14h1.4" stroke="#333" stroke-width="0.6"/>
<text class="tk" transform="translate(406.95 211.59) rotate(0.05)">0.4</text>
<path d="M404.45 190.61h1.4" stroke="#333" stroke-width="0.6"/>
<text class="tk" transform="translate(406.95 193.06) rotate(0.05)">0.6</text>
<path d="M404.45 172.08h1.4" stroke="#333" stroke-width="0.6"/>
<text class="tk" transform="translate(406.95 174.53) rotate(0.05)">0.8</text>
<text class="cp" transform="translate(346.30 273.20) rotate(0.05)" text-anchor="middle">(g)</text>
</g>
<g>
<rect x="434.20" y="155.40" width="22.53" height="22.75" fill="#083d7f"/>
<rect x="456.68" y="155.40" width="22.53" height="22.75" fill="#ebf3fb"/>
<rect x="479.15" y="155.40" width="22.53" height="22.75" fill="#f7fbff"/>
<rect x="501.62" y="155.40" width="22.53" height="22.75" fill="#f7fbff"/>
<rect x="434.20" y="178.10" width="22.53" height="22.75" fill="#f3f8fe"/>
<rect x="456.68" y="178.10" width="22.53" height="22.75" fill="#084083"/>
<rect x="479.15" y="178.10" width="22.53" height="22.75" fill="#edf4fc"/>
<rect x="501.62" y="178.10" width="22.53" height="22.75" fill="#f7fbff"/>
<rect x="434.20" y="200.80" width="22.53" height="22.75" fill="#f5fafe"/>
<rect x="456.68" y="200.80" width="22.53" height="22.75" fill="#e7f1fa"/>
<rect x="479.15" y="200.80" width="22.53" height="22.75" fill="#084083"/>
<rect x="501.62" y="200.80" width="22.53" height="22.75" fill="#f7fbff"/>
<rect x="434.20" y="223.50" width="22.53" height="22.75" fill="#f7fbff"/>
<rect x="456.68" y="223.50" width="22.53" height="22.75" fill="#f7fbff"/>
<rect x="479.15" y="223.50" width="22.53" height="22.75" fill="#f3f8fe"/>
<rect x="501.62" y="223.50" width="22.53" height="22.75" fill="#08306b"/>
<path d="M433.83 155.40H524.10V246.57" fill="none" stroke="#a4a4a4" stroke-width="0.75"/>
<path d="M434.20 155.03V246.20H524.47" fill="none" stroke="#787878" stroke-width="0.75"/>
<text class="nm" transform="translate(445.04 167.25) rotate(0.05)" fill="#fff" stroke="#fff">0.93</text>
<text class="nm" transform="translate(467.51 167.25) rotate(0.05)" fill="#222" stroke="#222">0.06</text>
<text class="nm" transform="translate(489.99 167.25) rotate(0.05)" fill="#222" stroke="#222">0.00</text>
<text class="nm" transform="translate(512.46 167.25) rotate(0.05)" fill="#222" stroke="#222">0.00</text>
<text class="nm" transform="translate(445.04 189.95) rotate(0.05)" fill="#222" stroke="#222">0.02</text>
<text class="nm" transform="translate(467.51 189.95) rotate(0.05)" fill="#fff" stroke="#fff">0.92</text>
<text class="nm" transform="translate(489.99 189.95) rotate(0.05)" fill="#222" stroke="#222">0.05</text>
<text class="nm" transform="translate(512.46 189.95) rotate(0.05)" fill="#222" stroke="#222">0.00</text>
<text class="nm" transform="translate(445.04 212.65) rotate(0.05)" fill="#222" stroke="#222">0.01</text>
<text class="nm" transform="translate(467.51 212.65) rotate(0.05)" fill="#222" stroke="#222">0.08</text>
<text class="nm" transform="translate(489.99 212.65) rotate(0.05)" fill="#fff" stroke="#fff">0.92</text>
<text class="nm" transform="translate(512.46 212.65) rotate(0.05)" fill="#222" stroke="#222">0.00</text>
<text class="nm" transform="translate(445.04 235.35) rotate(0.05)" fill="#222" stroke="#222">0.00</text>
<text class="nm" transform="translate(467.51 235.35) rotate(0.05)" fill="#222" stroke="#222">0.00</text>
<text class="nm" transform="translate(489.99 235.35) rotate(0.05)" fill="#222" stroke="#222">0.02</text>
<text class="nm" transform="translate(512.46 235.35) rotate(0.05)" fill="#fff" stroke="#fff">0.98</text>
<path d="M434.20 166.75h-1.5M445.44 246.20v1.5" stroke="#333" stroke-width="0.6"/>
<text class="tk" transform="translate(431.30 168.95) rotate(0.05)" text-anchor="end">1</text>
<text class="tk" transform="translate(446.64 251.70) rotate(-45)" text-anchor="end">1</text>
<path d="M434.20 189.45h-1.5M467.91 246.20v1.5" stroke="#333" stroke-width="0.6"/>
<text class="tk" transform="translate(431.30 191.65) rotate(0.05)" text-anchor="end">2</text>
<text class="tk" transform="translate(469.11 251.70) rotate(-45)" text-anchor="end">2</text>
<path d="M434.20 212.15h-1.5M490.39 246.20v1.5" stroke="#333" stroke-width="0.6"/>
<text class="tk" transform="translate(431.30 214.35) rotate(0.05)" text-anchor="end">3</text>
<text class="tk" transform="translate(491.59 251.70) rotate(-45)" text-anchor="end">3</text>
<path d="M434.20 234.85h-1.5M512.86 246.20v1.5" stroke="#333" stroke-width="0.6"/>
<text class="tk" transform="translate(431.30 237.05) rotate(0.05)" text-anchor="end">4</text>
<text class="tk" transform="translate(514.06 251.70) rotate(-45)" text-anchor="end">4</text>
<text class="lb" transform="translate(425.30 201.30) rotate(-90)" text-anchor="middle">True label</text>
<text class="lb" transform="translate(479.15 259.50) rotate(0.05)" text-anchor="middle">Predicted label</text>
<rect x="532.90" y="155.40" width="5.00" height="90.80" fill="url(#cb)" stroke="#999" stroke-width="0.5"/>
<path d="M537.90 246.20h1.4" stroke="#333" stroke-width="0.6"/>
<text class="tk" transform="translate(540.40 248.65) rotate(0.05)">0.0</text>
<path d="M537.90 227.67h1.4" stroke="#333" stroke-width="0.6"/>
<text class="tk" transform="translate(540.40 230.12) rotate(0.05)">0.2</text>
<path d="M537.90 209.14h1.4" stroke="#333" stroke-width="0.6"/>
<text class="tk" transform="translate(540.40 211.59) rotate(0.05)">0.4</text>
<path d="M537.90 190.61h1.4" stroke="#333" stroke-width="0.6"/>
<text class="tk" transform="translate(540.40 193.06) rotate(0.05)">0.6</text>
<path d="M537.90 172.08h1.4" stroke="#333" stroke-width="0.6"/>
<text class="tk" transform="translate(540.40 174.53) rotate(0.05)">0.8</text>
<text class="cp" transform="translate(480.45 273.90) rotate(0.05)" text-anchor="middle">(h)</text>
</g>
</svg>
</body></html>
